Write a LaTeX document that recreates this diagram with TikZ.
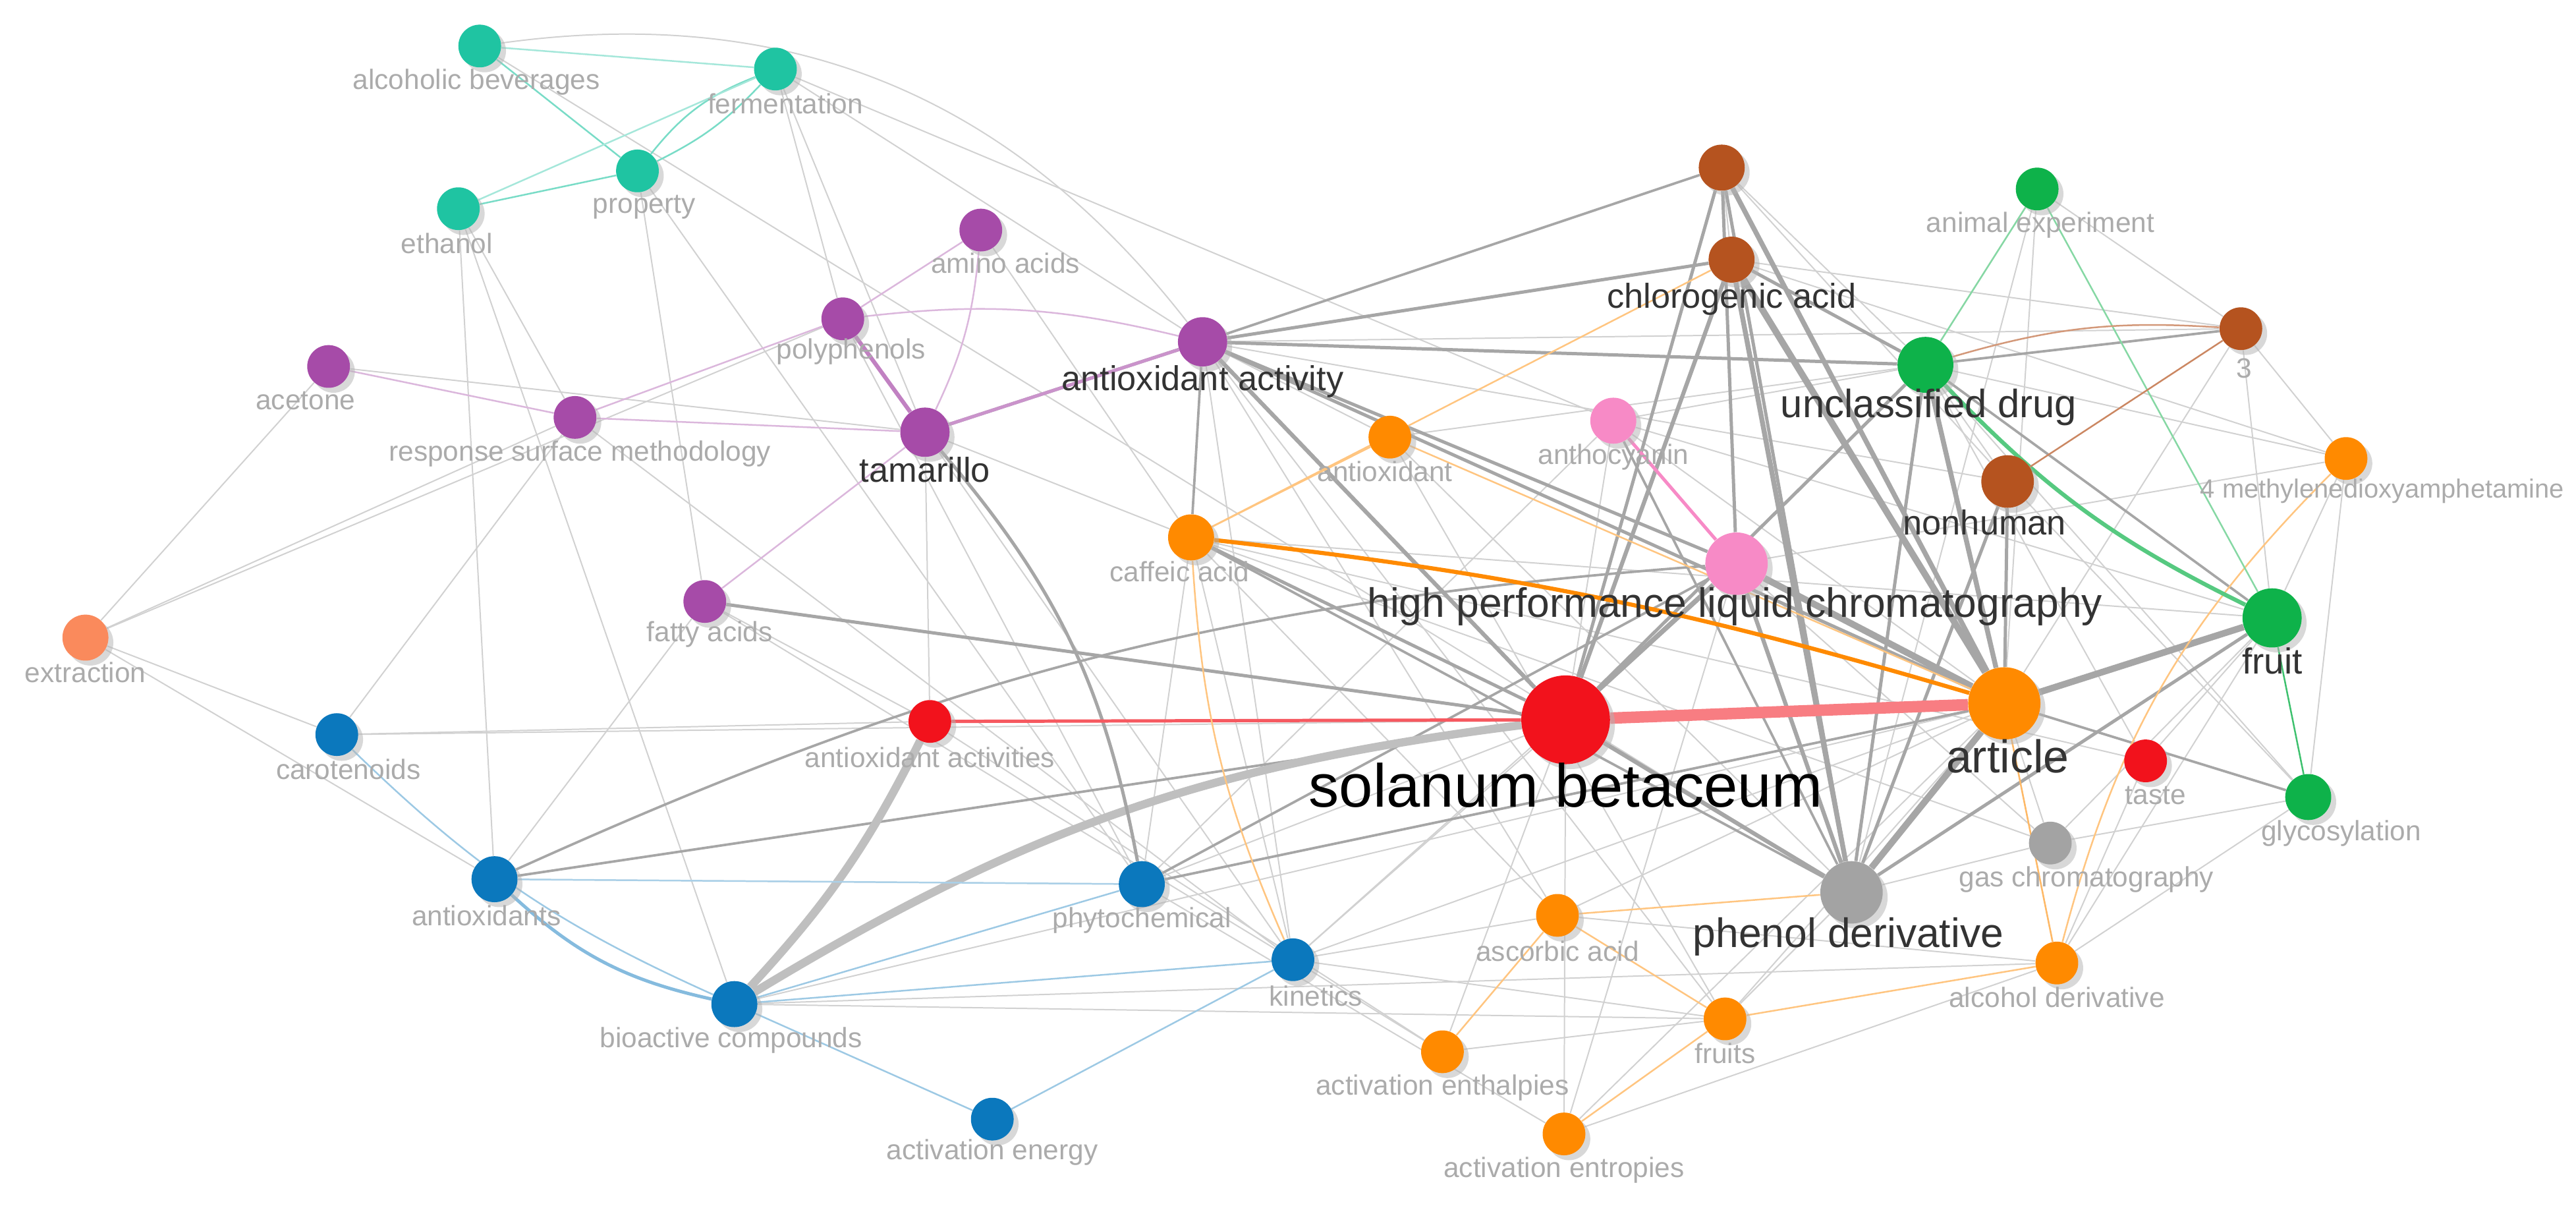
\documentclass[tikz,border=0pt]{standalone}
\usepackage{fontspec}
\setmainfont{Liberation Sans}
\usetikzlibrary{backgrounds}
\definecolor{cteal}{HTML}{1FC4A2}
\definecolor{cpur}{HTML}{A64BA8}
\definecolor{cbrown}{HTML}{B5531F}
\definecolor{cgreen}{HTML}{0EB24A}
\definecolor{corange}{HTML}{FF8A00}
\definecolor{cred}{HTML}{F2121C}
\definecolor{cblue}{HTML}{0B78BD}
\definecolor{cpink}{HTML}{F78AC6}
\definecolor{cgrey}{HTML}{A3A3A3}
\definecolor{csalmon}{HTML}{FA8A5C}
\definecolor{ctext}{HTML}{ABABAB}
\definecolor{cdark}{HTML}{333333}
\tikzset{
 nd/.style={circle,inner sep=0pt,minimum size=26pt,fill=#1},
 lb/.style={text=ctext,font=\fontsize{17}{17}\selectfont,inner sep=1pt},
 lbd/.style={text=cdark,font=\fontsize{21}{21}\selectfont,inner sep=1pt},
 e/.style={draw=black!18,line width=0.8pt},
 eg/.style={draw=black!35,line width=#1},
}
\newcommand{\nod}[5]{\fill[black!30,opacity=0.5] (#2+3,#3+3) circle (#5*0.5);
 \node[nd=#4,minimum size=#5 pt] (#1) at (#2,#3) {};}
\begin{document}
\begin{tikzpicture}[x=1pt,y=-1pt]
\useasboundingbox (0,0) rectangle (1568,735);
\nod{alc}{292}{28}{cteal}{26}
\nod{fer}{472}{42}{cteal}{26}
\nod{pro}{388}{104}{cteal}{26}
\nod{eth}{279}{127}{cteal}{26}
\nod{ami}{597}{140}{cpur}{26}
\nod{pol}{513}{194}{cpur}{26}
\nod{ace}{200}{223}{cpur}{26}
\nod{rsm}{350}{254}{cpur}{26}
\nod{aoa}{732}{208}{cpur}{30}
\nod{tam}{563}{263}{cpur}{30}
\nod{ant}{846}{266}{corange}{26}
\nod{ach}{982}{256}{cpink}{28}
\nod{bt}{1048}{102}{cbrown}{28}
\nod{chl}{1054}{158}{cbrown}{28}
\nod{unc}{1172}{222}{cgreen}{34}
\nod{ani}{1240}{115}{cgreen}{26}
\nod{thr}{1364}{200}{cbrown}{26}
\nod{mda}{1428}{279}{corange}{26}
\nod{non}{1222}{293}{cbrown}{32}
\nod{hplc}{1057}{343}{cpink}{38}
\nod{caf}{725}{327}{corange}{28}
\nod{fat}{429}{366}{cpur}{26}
\nod{ext}{52}{388}{csalmon}{28}
\nod{fru}{1383}{376}{cgreen}{36}
\nod{car}{205}{447}{cblue}{26}
\nod{aas}{566}{439}{cred}{26}
\nod{sol}{953}{438}{cred}{54}
\nod{art}{1220}{428}{corange}{44}
\nod{tas}{1306}{463}{cred}{26}
\nod{gly}{1405}{485}{cgreen}{28}
\nod{gas}{1248}{513}{cgrey}{26}
\nod{phe}{1127}{543}{cgrey}{38}
\nod{aos}{301}{535}{cblue}{28}
\nod{phy}{695}{538}{cblue}{28}
\nod{asc}{948}{557}{corange}{26}
\nod{kin}{787}{584}{cblue}{26}
\nod{ald}{1252}{586}{corange}{26}
\nod{frs}{1050}{620}{corange}{26}
\nod{bio}{447}{611}{cblue}{28}
\nod{aen}{878}{640}{corange}{26}
\nod{aeg}{604}{681}{cblue}{26}
\nod{aet}{952}{690}{corange}{26}
\begin{pgfonlayer}{background}
\foreach \a/\b in {alc/phe,fer/pol,fer/tam,fer/aoa,fer/ach,pro/phy,pro/fat,eth/aos,eth/bio,eth/rsm,ext/ace,ext/rsm,ext/car,ext/aos,ext/pol,rsm/kin,rsm/car,ace/tam,ami/caf,pol/phy,tam/caf,tam/kin,tam/aas,aoa/non,aoa/thr,aoa/ant,aoa/asc,aoa/frs,caf/gas,caf/tas,caf/fru,caf/phe,caf/asc,ant/phe,ant/unc,ach/sol,ach/fru,ach/art,ach/unc,bt/chl,bt/unc,bt/non,bt/aoa,chl/thr,chl/mda,unc/gly,unc/mda,unc/non,ani/art,ani/thr,ani/phe,thr/mda,thr/fru,thr/art,mda/fru,mda/gly,fru/gas,fru/ald,fru/tas,gly/art,gly/gas,gly/ald,tas/ald,gas/art,gas/phe,ald/art,ald/asc,frs/art,frs/phe,frs/kin,frs/bio,asc/art,asc/kin,kin/art,kin/aen,kin/sol,kin/hplc,aen/frs,aet/ald,aet/art,aet/phy,fat/kin,fat/aas,phy/sol,phy/art,phy/ach,bio/art,bio/ald,aos/phy,aos/fat,car/aas,aen/aas,aoa/kin,caf/kin,hplc/aet,sol/aen,sol/aet,phy/caf,ant/frs,ani/unc,non/gly,unc/tas,hplc/mda,hplc/gas}
 \draw[e] (\a) -- (\b);
\draw[e] (alc) to[bend left=30] (aoa);
\draw[e] (car) -- (sol);
\foreach \a/\b/\w in {sol/phe/2.5,art/phe/4,art/fru/4,art/unc/3,art/hplc/4,sol/hplc/3,chl/art/4,chl/phe/3,bt/art/3,bt/hplc/2,bt/sol/2,bt/phe/2,aoa/sol/2.5,aoa/hplc/2,aoa/art/2,aoa/caf/1.5,aoa/unc/2,aoa/chl/2,fat/sol/2,aos/sol/1.5,phy/hplc/1.5,phy/art/1.5,caf/sol/2,caf/phe/1.5,unc/phe/2,unc/sol/2,non/phe/2,non/art/2,chl/sol/2.5,hplc/phe/2.5,ach/phe/1.5,sol/art/2,fru/phe/2,fru/unc/1.5,thr/unc/1.5,art/gly/1.5,tam/aoa/2,chl/unc/2,aoa/bt/1.5}
 \draw[eg=\w pt] (\a) -- (\b);
\draw[eg=5pt,draw=black!25] (sol) to[bend right=12] (bio);
\draw[eg=5pt,draw=black!25] (aas) to[bend left=8] (bio);
\draw[eg=2pt] (tam) to[bend left=15] (phy);
\draw[eg=1.5pt] (aos) to[bend left=10] (hplc);
\draw[cred!70,line width=2pt] (aas) -- (sol);
\draw[cred!55,line width=7pt] (sol) -- (art);
\draw[corange,line width=2.5pt] (caf) to[bend left=5] (art);
\draw[corange!50,line width=1pt] (ant) -- (art);
\draw[corange!50,line width=1pt] (caf) -- (ant);
\draw[corange!50,line width=1pt] (caf) to[bend right=10] (kin);
\draw[corange!50,line width=1pt] (asc) -- (aen);
\draw[corange!50,line width=1pt] (frs) -- (ald);
\draw[corange!50,line width=1pt] (frs) -- (asc);
\draw[corange!50,line width=1pt] (frs) -- (aet);
\draw[corange!50,line width=1pt] (ald) to[bend left=15] (mda);
\draw[corange!60,line width=1pt] (art) -- (ald);
\draw[corange!50,line width=1pt] (phe) -- (asc);
\draw[corange!50,line width=1pt] (chl) -- (caf);
\draw[cpink,line width=2pt] (ach) -- (hplc);
\draw[cgreen!70,line width=2.5pt] (unc) to[bend right=10] (fru);
\draw[cgreen!50,line width=1pt] (ani) -- (unc);
\draw[cgreen!50,line width=1pt] (ani) -- (fru);
\draw[cgreen!80,line width=1pt] (fru) -- (gly);
\draw[cbrown!70,line width=1pt] (thr) -- (non);
\draw[cbrown!60,line width=1pt] (thr) to[bend right=10] (unc);
\draw[cteal!60,line width=1pt] (alc) -- (pro);
\draw[cteal!60,line width=1pt] (fer) to[bend left=10] (pro);
\draw[cteal!60,line width=1pt] (fer) to[bend right=15] (pro);
\draw[cteal!60,line width=1pt] (eth) -- (pro);
\draw[cteal!40,line width=1pt] (alc) -- (fer);
\draw[cteal!40,line width=1pt] (fer) -- (eth);
\draw[cpur!40,line width=1pt] (pol) -- (ami);
\draw[cpur!40,line width=1pt] (pol) -- (rsm);
\draw[cpur!70,line width=2.5pt] (pol) -- (tam);
\draw[cpur!40,line width=1pt] (ami) to[bend left=10] (tam);
\draw[cpur!40,line width=1pt] (ace) -- (rsm);
\draw[cpur!40,line width=1pt] (rsm) -- (tam);
\draw[cpur!40,line width=1pt] (fat) -- (tam);
\draw[cpur!40,line width=1pt] (aoa) to[bend right=10] (pol);
\draw[cpur!60,line width=2pt] (tam) -- (aoa);
\draw[cblue!50,line width=2pt] (aos) to[bend right=15] (bio);
\draw[cblue!40,line width=1pt] (car) to[bend right=10] (bio);
\draw[cblue!35,line width=1pt] (aos) -- (phy);
\draw[cblue!40,line width=1pt] (bio) -- (kin);
\draw[cblue!40,line width=1pt] (bio) -- (phy);
\draw[cblue!40,line width=1pt] (aeg) -- (kin);
\draw[cblue!40,line width=1pt] (bio) -- (aeg);
\end{pgfonlayer}
\node[lb] at (290,50) {alcoholic beverages};
\node[lb] at (478,63) {fermentation};
\node[lb] at (392,126) {property};
\node[lb] at (272,148) {ethanol};
\node[lb] at (612,160) {amino acids};
\node[lb] at (518,214) {polyphenols};
\node[lb] at (186,244) {acetone};
\node[lb] at (353,276) {response surface methodology};
\node[lbd] at (732,232) {antioxidant activity};
\node[lbd] at (563,286) {tamarillo};
\node[lb] at (843,287) {antioxidant};
\node[lb] at (982,278) {anthocyanin};
\node[lbd] at (1054,182) {chlorogenic acid};
\node[lbd,font=\fontsize{24}{24}\selectfont] at (1174,248) {unclassified drug};
\node[lb] at (1242,137) {animal experiment};
\node[lb] at (1366,224) {3};
\node[lb,anchor=east,font=\fontsize{16}{16}\selectfont] at (1562,299) {4 methylenedioxyamphetamine};
\node[lbd,font=\fontsize{21}{21}\selectfont] at (1208,318) {nonhuman};
\node[lbd,font=\fontsize{25}{25}\selectfont] at (1056,369) {high performance liquid chromatography};
\node[lb] at (718,348) {caffeic acid};
\node[lb] at (432,386) {fatty acids};
\node[lb] at (52,409) {extraction};
\node[lbd,font=\fontsize{22}{22}\selectfont] at (1383,402) {fruit};
\node[lb] at (212,468) {carotenoids};
\node[lb] at (566,461) {antioxidant activities};
\node[lbd,text=black,font=\fontsize{37}{37}\selectfont] at (953,478) {solanum betaceum};
\node[lbd,font=\fontsize{28}{28}\selectfont] at (1222,460) {article};
\node[lb] at (1312,484) {taste};
\node[lb] at (1425,507) {glycosylation};
\node[lb] at (1270,535) {gas chromatography};
\node[lbd,font=\fontsize{25}{25}\selectfont] at (1125,570) {phenol derivative};
\node[lb] at (296,557) {antioxidants};
\node[lb] at (695,560) {phytochemical};
\node[lb] at (948,579) {ascorbic acid};
\node[lb] at (801,606) {kinetics};
\node[lb] at (1252,607) {alcohol derivative};
\node[lb] at (1050,641) {fruits};
\node[lb] at (445,633) {bioactive compounds};
\node[lb] at (878,662) {activation enthalpies};
\node[lb] at (604,701) {activation energy};
\node[lb] at (952,712) {activation entropies};
\end{tikzpicture}
\end{document}
